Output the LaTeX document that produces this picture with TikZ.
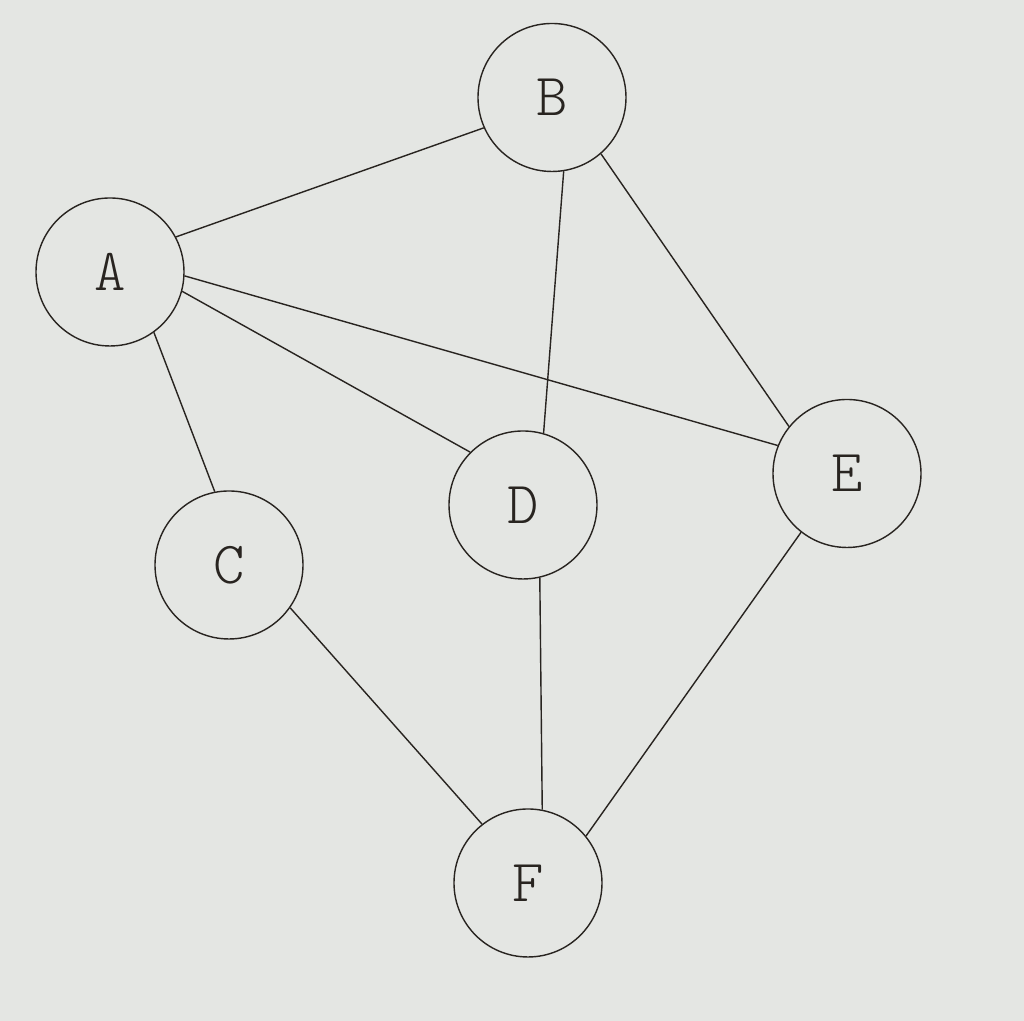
\documentclass[tikz,border=0pt]{standalone}
\usepackage{fontspec}
\newfontfamily\lettertt{Latin Modern Mono Light}
\definecolor{paper}{RGB}{228,230,227}
\definecolor{ink}{RGB}{40,36,32}

\begin{document}
\begin{tikzpicture}[vertex/.style={circle, draw = ink, line width = 0.8pt, minimum size = 2.96cm, inner sep = 0pt, font = \lettertt\fontsize{34}{36}\selectfont, text = ink}, link/.style={ink, line width = 0.8pt}]
\fill[paper] (0,0) rectangle (20.48,20.42);
\useasboundingbox (0,0) rectangle (20.48,20.42);
\node[vertex] (B) at (11.04,18.47) {B};
\node[vertex] (A) at (2.20,14.98) {A};
\node[vertex] (C) at (4.58,9.12) {C};
\node[vertex] (D) at (10.46,10.32) {D};
\node[vertex] (E) at (16.94,10.95) {E};
\node[vertex] (F) at (10.56,2.76) {F};
\draw[link] (A.28) -- (B.204);
\draw[link] (A.-3) -- (E.158);
\draw[link] (A.-15) -- (D.135);
\draw[link] (A.-54) -- (C.101);
\draw[link] (B.-81) -- (D.74);
\draw[link] (B.-49) -- (E.141);
\draw[link] (C.-35) -- (F.128);
\draw[link] (D.-77) -- (F.79);
\draw[link] (E.-128) -- (F.39);
\end{tikzpicture}
\end{document}
